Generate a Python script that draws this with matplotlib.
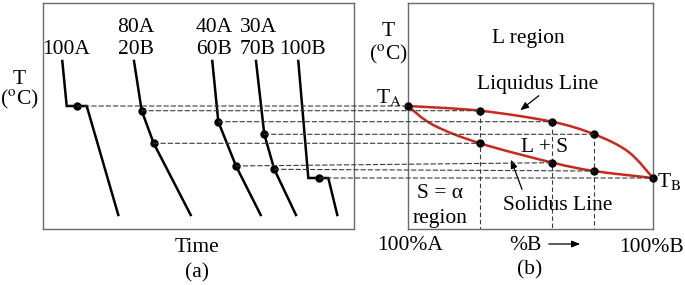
import matplotlib
matplotlib.use("Agg")
import matplotlib.pyplot as plt
import numpy as np
from matplotlib.patches import ConnectionPatch, PathPatch
from matplotlib.path import Path

plt.rcParams["font.family"] = ["Liberation Serif", "DejaVu Serif"]
plt.rcParams["mathtext.fontset"] = "stix"

# cooling curves (a): time vs temperature, arbitrary units
curve_labels = [("100A", ""), ("80A", "20B"), ("40A", "60B"), ("30A", "70B"), ("100B", "")]
curve_t = [
    [19.3, 23.7, 43.7, 75.3],
    [91.0, 98.7, 110.7, 147.7],
    [169.3, 175.3, 193.0, 217.7],
    [213.0, 221.3, 231.3, 253.0],
    [255.3, 265.3, 285.3, 294.3],
]
curve_T = [
    [168, 123, 123, 14],
    [168, 118.3, 85.7, 14],
    [168, 107.3, 63.0, 14],
    [168, 94.7, 59.7, 14],
    [168, 51, 51, 14],
]
# transition points on the cooling curves (time, T)
arrest_t = [34.3, 98.7, 110.7, 175.3, 193.0, 221.3, 231.3, 276.3]
arrest_T = [123, 118.3, 85.7, 107.3, 63.0, 94.7, 59.7, 51]

# phase diagram (b): %B vs temperature
liq_x = [0, 29.4, 58.7, 76.0, 89.9, 100]
liq_T = [123, 118.3, 107.3, 94.7, 77.3, 51]
sol_x = [0, 10.3, 29.4, 59.1, 76.0, 100]
sol_T = [123, 104, 85.7, 66.3, 58.0, 51]
# matching points on the diagram, same order as arrest points
pt_x = [0, 29.4, 29.4, 58.7, 58.7, 76.0, 76.0, 100]
pt_T = [123, 118.3, 85.7, 107.3, 66.3, 94.7, 58.0, 51]
vert_x = [29.4, 58.7, 76.0]
vert_T = [118.3, 107.3, 94.7]

W, H = 685, 285
fig = plt.figure(figsize=(W / 100, H / 100), dpi=100)


def box(x0, y0, x1, y1):
    return [x0 / W, 1 - y1 / H, (x1 - x0) / W, (y1 - y0) / H]


def smooth(xs, ys):
    # catmull-rom through the points, as bezier segments
    p = np.column_stack([xs, ys]).astype(float)
    n = len(p)
    verts = [p[0]]
    codes = [Path.MOVETO]
    for i in range(n - 1):
        p0 = p[i - 1] if i > 0 else p[i]
        p3 = p[i + 2] if i + 2 < n else p[i + 1]
        c1 = p[i] + (p[i + 1] - p0) / 6
        c2 = p[i + 1] - (p3 - p[i]) / 6
        verts += [c1, c2, p[i + 1]]
        codes += [Path.CURVE4] * 3
    return Path(verts, codes)


axa = fig.add_axes(box(43, 3, 354, 229))
axb = fig.add_axes(box(408, 3, 653, 229))
for ax in (axa, axb):
    ax.set_xticks([])
    ax.set_yticks([])
    for s in ax.spines.values():
        s.set_color("#6a6a6a")
        s.set_linewidth(1.0)
axa.set_xlim(0, 311)
axa.set_ylim(0, 226)
axb.set_xlim(0, 100)
axb.set_ylim(0, 226)

dash = dict(color="#3a3a3a", lw=0.8, ls=(0, (4, 2.5)))
fs = 15.5

for t, T in zip(curve_t, curve_T):
    axa.plot(t, T, color="black", lw=1.8, solid_joinstyle="miter")
axa.plot(arrest_t, arrest_T, "o", color="black", ms=5, zorder=5)

for (l1, l2), t in zip(curve_labels, curve_t):
    if l2:
        axa.text(t[0] + 2, 202, l1, ha="center", va="center", fontsize=fs)
        axa.text(t[0] + 2, 179, l2, ha="center", va="center", fontsize=fs)
    else:
        axa.text(t[0] + 4, 179, l1, ha="center", va="center", fontsize=fs)

for x, T in zip(vert_x, vert_T):
    axb.plot([x, x], [T, 0], **dash)
for xs, ys in ((liq_x, liq_T), (sol_x, sol_T)):
    axb.add_patch(PathPatch(smooth(xs, ys), fill=False, edgecolor="#c8281e",
                            lw=1.8, zorder=4))
axb.plot(pt_x, pt_T, "o", color="black", ms=5, zorder=6, clip_on=False)

for t, T, x, T2 in zip(arrest_t, arrest_T, pt_x, pt_T):
    con = ConnectionPatch(xyA=(t, T), coordsA=axa.transData,
                          xyB=(x, T2), coordsB=axb.transData, **dash)
    fig.add_artist(con)

# text overlay in pixel coordinates
ov = fig.add_axes([0, 0, 1, 1])
ov.set_xlim(0, W)
ov.set_ylim(H, 0)
ov.axis("off")
ov.patch.set_alpha(0)

ov.text(19, 79, "T", ha="center", va="center", fontsize=fs)
ov.text(19, 99, "($^{\\mathrm{o}}$C)", ha="center", va="center", fontsize=fs)
ov.text(197, 248, "Time", ha="center", va="center", fontsize=fs)
ov.text(197, 273, "(a)", ha="center", va="center", fontsize=fs)

ov.text(388, 32, "T", ha="center", va="center", fontsize=fs)
ov.text(388, 54, "($^{\\mathrm{o}}$C)", ha="center", va="center", fontsize=fs)
ov.text(389, 97, "T$_\\mathrm{A}$", ha="center", va="center", fontsize=fs)
ov.text(669, 182, "T$_\\mathrm{B}$", ha="center", va="center", fontsize=fs)
ov.text(528, 38, "L region", ha="center", va="center", fontsize=fs)
ov.text(538, 85, "Liquidus Line", ha="center", va="center", fontsize=fs)
ov.text(545, 147, "L + S", ha="center", va="center", fontsize=fs)
ov.text(440, 193, "S = α", ha="center", va="center", fontsize=fs)
ov.text(440, 218, "region", ha="center", va="center", fontsize=fs)
ov.text(558, 205, "Solidus Line", ha="center", va="center", fontsize=fs)
ov.text(410, 245, "100%A", ha="center", va="center", fontsize=fs)
ov.text(525, 245, "%B", ha="center", va="center", fontsize=fs)
ov.text(651, 248, "100%B", ha="center", va="center", fontsize=fs)
ov.text(530, 270, "(b)", ha="center", va="center", fontsize=fs)

arr = dict(arrowstyle="-|>,head_length=0.5,head_width=0.2", color="black", lw=0.9)
ov.annotate("", xy=(518, 112), xytext=(541, 94), arrowprops=arr)
ov.annotate("", xy=(510, 157), xytext=(523, 192), arrowprops=arr)
ov.annotate("", xy=(583, 244), xytext=(546, 244), arrowprops=arr)

fig.savefig("out.png", dpi=100)
